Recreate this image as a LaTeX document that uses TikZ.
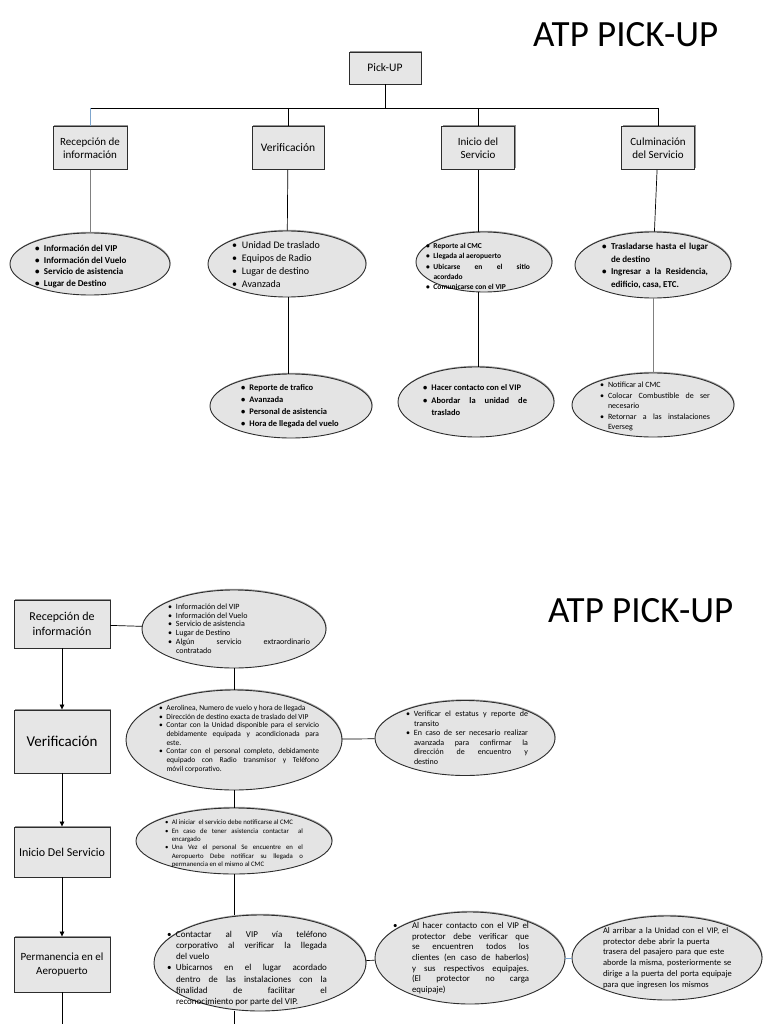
\documentclass[tikz,border=0pt]{standalone}
\usepackage{fontspec}
\setmainfont{Carlito}
\usetikzlibrary{shapes.geometric}
\usetikzlibrary{shadows}
\usetikzlibrary{arrows.meta}

\definecolor{boxfill}{RGB}{230,230,230}
\definecolor{ovalfill}{RGB}{228,228,228}
\definecolor{edgecol}{RGB}{45,45,45}
\definecolor{linkblue}{RGB}{125,165,205}

\newcommand{\bitem}[1]{\par\hangindent=1em\hangafter=1\noindent\hbox to 1em{\textbullet\hfil}#1}
\newcommand{\fsz}[2]{\fontsize{#1}{#2}\selectfont}
\hyphenpenalty=10000
\exhyphenpenalty=10000
\tolerance=9999

\begin{document}
\begin{tikzpicture}[x=1pt,y=1pt,yscale=-1,xscale=1,
  stepbox/.style={draw=edgecol, fill=boxfill, line width=0.9pt, align=center, inner sep=1pt,
    drop shadow={shadow xshift=1.2pt, shadow yshift=1.2pt, fill=black!60, opacity=0.7}},
  oval/.style={ellipse, draw=edgecol, fill=ovalfill, line width=0.9pt, inner sep=0pt,
    drop shadow={shadow xshift=0.6pt, shadow yshift=1.2pt, fill=black!60, opacity=0.6}},
  ovaltext/.style={text width=#1, align=justify, inner sep=0pt},
  link/.style={draw=black, line width=0.7pt},
  flow/.style={link, -{Triangle[length=5pt,width=4.5pt]}},
  title/.style={font=\fsz{37}{40}, anchor=base west, inner sep=0pt}]

\fill[white] (0,0) rectangle (768,1024);
\useasboundingbox (0,0) rectangle (768,1024);

% top chart
\node[title] (title1) at (533,47) {ATP PICK-UP};

\node[stepbox, minimum width=72, minimum height=32, font=\fsz{11.5}{14}] (pick) at (385,68) {Pick-UP};
\node[stepbox, minimum width=74, minimum height=43, font=\fsz{11}{13.5}] (rec) at (90,148) {Recepción de\\información};
\node[stepbox, minimum width=72, minimum height=43, font=\fsz{11.5}{14}] (ver) at (288,148) {Verificación};
\node[stepbox, minimum width=73, minimum height=43, font=\fsz{11}{13.5}] (ini) at (478,148) {Inicio del\\Servicio};
\node[stepbox, minimum width=73, minimum height=43, font=\fsz{11}{13.5}] (cul) at (658,148) {Culminación\\del Servicio};

\coordinate (busL) at (90,108);
\coordinate (busR) at (658,108);
\draw[link] (pick) -- (pick |- busL);
\draw[link] (busL) -- (busR);
\draw[link, draw=linkblue] (busL) -- (rec);
\draw[link] (ver |- busL) -- (ver);
\draw[link] (ini |- busL) -- (ini);
\draw[link] (cul |- busL) -- (cul);

\node[oval, minimum width=160, minimum height=62] (e1) at (90,264) {};
\node[oval, minimum width=158, minimum height=66] (e2) at (287,264) {};
\node[oval, minimum width=136, minimum height=60] (e3) at (484,262) {};
\node[oval, minimum width=156, minimum height=66] (e4) at (653,265) {};
\node[oval, minimum width=162, minimum height=64] (b1) at (291,406) {};
\node[oval, minimum width=156, minimum height=70] (b2) at (476,402) {};
\node[oval, minimum width=162, minimum height=64] (b3) at (653,405) {};

\draw[link, draw=gray] (rec) -- (e1);
\draw[link] (ver) -- (e2);
\draw[link] (ini.south) -- (ini.south |- e3.north);
\draw[link] (cul) -- (e4);
\draw[link] (e2.south -| ver) -- (b1.north -| ver);
\draw[link] (ini.south |- e3.south) -- (ini.south |- b2.north);
\draw[link, draw=gray] (e4) -- (b3);

\node[ovaltext=98, font=\fsz{9}{11.5}\bfseries] (e1t) at (84,264)
  {\bitem{Información del VIP}\bitem{Información del Vuelo}\bitem{Servicio de asistencia}\bitem{Lugar de Destino}\par};
\node[ovaltext=100, font=\fsz{10}{13}] (e2t) at (282,262)
  {\bitem{Unidad De traslado}\bitem{Equipos de Radio}\bitem{Lugar de destino}\bitem{Avanzada}\par};
\node[ovaltext=104, font=\fsz{7.5}{10.3}\bfseries] (e3t) at (478,264)
  {\bitem{Reporte al CMC}\bitem{Llegada al aeropuerto}\bitem{Ubicarse en el sitio\linebreak acordado}\bitem{Comunicarse con el VIP}\par};
\node[ovaltext=106, font=\fsz{9}{12.5}\bfseries] (e4t) at (655,263)
  {\bitem{Trasladarse hasta el lugar\linebreak de destino}\bitem{Ingresar a la Residencia,\linebreak edificio, casa, ETC.}\par};
\node[ovaltext=104, font=\fsz{8.5}{12}\bfseries] (b1t) at (293,403)
  {\bitem{Reporte de trafico}\bitem{Avanzada}\bitem{Personal de asistencia}\bitem{Hora de llegada del vuelo}\par};
\node[ovaltext=104, font=\fsz{8.5}{12.5}\bfseries] (b2t) at (475,397)
  {\bitem{Hacer contacto con el VIP}\bitem{Abordar la unidad de\linebreak traslado}\par};
\node[ovaltext=110, font=\fsz{8}{10.5}] (b3t) at (655,404)
  {\bitem{Notificar al CMC}\bitem{Colocar Combustible de ser\linebreak necesario}\bitem{Retornar a las instalaciones\linebreak Everseg}\par};

% bottom chart
\node[title] (title2) at (548,622) {ATP PICK-UP};

\node[stepbox, minimum width=96, minimum height=48, font=\fsz{12}{15}] (rec2) at (62,624) {Recepción de\\información};
\node[stepbox, minimum width=96, minimum height=63, font=\fsz{15}{18}] (ver2) at (62,741.5) {Verificación};
\node[stepbox, minimum width=96, minimum height=50, font=\fsz{12}{15}] (ini2) at (62,852) {Inicio Del Servicio};
\node[stepbox, minimum width=96, minimum height=55, font=\fsz{11}{14}] (perm2) at (62,964.5) {Permanencia en el\\Aeropuerto};
\coordinate (pend) at (62,1024);

\draw[flow] (rec2) -- (ver2);
\draw[flow] (ver2) -- (ini2);
\draw[flow] (ini2) -- (perm2);
\draw[link] (perm2) -- (pend);

\node[oval, minimum width=184, minimum height=78] (l1) at (234,629) {};
\node[oval, minimum width=216, minimum height=100] (l2) at (234,740) {};
\node[oval, minimum width=180, minimum height=75] (l3) at (465,738) {};
\node[oval, minimum width=196, minimum height=66] (l4) at (234,841) {};
\node[oval, minimum width=212, minimum height=96] (l5) at (260,963) {};
\node[oval, minimum width=190, minimum height=92] (l6) at (470,958) {};
\node[oval, minimum width=190, minimum height=84] (l7) at (667,958) {};
\coordinate (l5end) at (234,1024);

\draw[link] (rec2) -- (l1);
\draw[link] (l1) -- (l2);
\draw[link] (l2) -- (l3);
\draw[link] (l2) -- (l4);
\draw[link] (l4.south) -- (l4.south |- l5.north);
\draw[link] (l5end |- l5.south) -- (l5end);
\draw[link] (l5) -- (l6);
\draw[link, draw=linkblue] (l6) -- (l7);

\node[ovaltext=142, font=\fsz{8}{8.9}] (l1t) at (239,627)
  {\bitem{Información del VIP}\bitem{Información del Vuelo}\bitem{Servicio de asistencia}\bitem{Lugar de Destino}\bitem{Algún servicio extraordinario\linebreak contratado}\par};
\node[ovaltext=160, font=\fsz{7.5}{8.7}] (l2t) at (239,737)
  {\bitem{Aerolinea, Numero de vuelo y hora de llegada}\bitem{Dirección de destino exacta de traslado del VIP}\bitem{Contar con la Unidad disponible para el servicio\linebreak debidamente equipada y acondicionada para\linebreak este.}\bitem{Contar con el personal completo, debidamente\linebreak equipado con Radio transmisor y Teléfono\linebreak móvil corporativo.}\par};
\node[ovaltext=122, font=\fsz{8}{9.5}] (l3t) at (467,736)
  {\bitem{Verificar el estatus y reporte de\linebreak transito}\bitem{En caso de ser necesario realizar\linebreak avanzada para confirmar la\linebreak dirección de encuentro y\linebreak destino}\par};
\node[ovaltext=138, font=\fsz{6.8}{8.4}] (l4t) at (234,842)
  {\bitem{Al iniciar\ \ el servicio debe notificarse al CMC}\bitem{En caso de tener asistencia contactar\ \ al\linebreak encargado}\bitem{Una Vez el personal Se encuentre en el\linebreak Aeropuerto Debe notificar su llegada o\linebreak permanencia en el mismo al CMC}\par};
\node[ovaltext=160, font=\fsz{9}{11.2}] (l5t) at (247,966)
  {\bitem{Contactar al VIP vía teléfono\linebreak corporativo al verificar la llegada\linebreak del vuelo}\bitem{Ubicarnos en el lugar acordado\linebreak dentro de las instalaciones con la\linebreak finalidad de facilitar el\linebreak reconocimiento por parte del VIP.}\par};
\node[ovaltext=136, font=\fsz{8.8}{10.6}] (l6t) at (461,956)
  {\par\hangindent=19pt\hangafter=1\noindent\hbox to 19pt{\textbullet\hfil}Al hacer contacto con el VIP el\linebreak protector debe verificar que\linebreak se encuentren todos los\linebreak clientes (en caso de haberlos)\linebreak y sus respectivos equipajes.\linebreak (El protector no carga\linebreak equipaje)\par};
\node[ovaltext=132, align=left, font=\fsz{8.5}{10.8}] (l7t) at (669,958)
  {Al arribar a la Unidad con el VIP, el\\protector debe abrir la puerta\\trasera del pasajero para que este\\aborde la misma, posteriormente se\\dirige a la puerta del porta equipaje\\para que ingresen los mismos};

\end{tikzpicture}
\end{document}
